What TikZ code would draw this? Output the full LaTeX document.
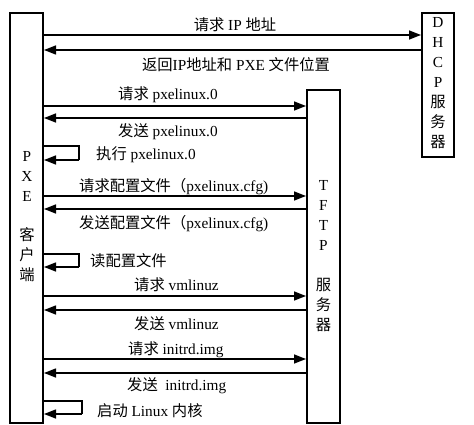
\documentclass[tikz,border=0pt]{standalone}
\usepackage{fontspec}
\setmainfont{Liberation Serif}
\newfontfamily\cjk{Noto Sans CJK SC}
\usetikzlibrary{arrows.meta}
\newcommand{\zh}[1]{{\cjk #1}}
\tikzset{
  box/.style={draw, line width=2pt, inner sep=0pt},
  arr/.style={line width=1.4pt, -{Triangle[length=12pt,width=9pt]}},
  lab/.style={font=\fontsize{15.3}{16}\selectfont, inner sep=0pt},
  vlab/.style={font=\fontsize{15.3}{20}\selectfont, align=center, inner sep=0pt},
}
\begin{document}
\begin{tikzpicture}[x=1pt,y=-1pt]
\useasboundingbox (0,0) rectangle (474,425);
\fill[white] (0,0) rectangle (474,425);
% boxes
\node[box, minimum width=33pt, minimum height=410pt] (client) at (26.5,218) {};
\node[box, minimum width=32pt, minimum height=144pt] (dhcp) at (438,85) {};
\node[box, minimum width=33pt, minimum height=333pt] (tftp) at (323.5,256.5) {};
% vertical texts
\node[vlab, anchor=north] (ctext) at (27,151) {P\\X\\E\\[19pt]\zh{客}\\\zh{户}\\\zh{端}};
\node[vlab, anchor=north] (dtext) at (438,17) {D\\H\\C\\P\\\zh{服}\\\zh{务}\\\zh{器}};
\node[vlab, anchor=north] (ttext) at (323.5,180) {T\\F\\T\\P\\[20pt]\zh{服}\\\zh{务}\\\zh{器}};
% coordinates
\coordinate (y1) at (0,35);
\coordinate (y2) at (0,50);
\coordinate (y3) at (0,106);
\coordinate (y4) at (0,118);
\coordinate (y6) at (0,196);
\coordinate (y7) at (0,209);
\coordinate (y9) at (0,296);
\coordinate (y10) at (0,310);
\coordinate (y11) at (0,359);
\coordinate (y12) at (0,373);
% DHCP messages
\draw[arr] (client.east |- y1) -- (dhcp.west |- y1);
\draw[arr] (dhcp.west |- y2) -- (client.east |- y2);
\node[lab] (l1) at (235,25) {\zh{请求} IP \zh{地址}};
\node[lab] (l2) at (236,65) {\zh{返回}IP\zh{地址和} PXE \zh{文件位置}};
% TFTP messages
\draw[arr] (client.east |- y3) -- (tftp.west |- y3);
\draw[arr] (tftp.west |- y4) -- (client.east |- y4);
\node[lab, anchor=west] (l3) at (118,95) {\zh{请求} pxelinux.0};
\node[lab, anchor=west] (l4) at (118,132) {\zh{发送} pxelinux.0};
% self loop 1
\coordinate (s1a) at (client.east |- 0,146);
\coordinate (s1b) at (79,146);
\coordinate (s1c) at (79,160);
\coordinate (s1d) at (client.east |- 0,160);
\draw[line width=1.1pt] (s1a) -- (s1b) -- (s1c);
\draw[arr] (s1c) -- (s1d);
\node[lab, anchor=west] (l5) at (96,155) {\zh{执行} pxelinux.0};
\draw[arr] (client.east |- y6) -- (tftp.west |- y6);
\draw[arr] (tftp.west |- y7) -- (client.east |- y7);
\node[lab, anchor=west] (l6) at (79,187) {\zh{请求配置文件（}pxelinux.cfg)};
\node[lab, anchor=west] (l7) at (79,224) {\zh{发送配置文件（}pxelinux.cfg)};
% self loop 2
\coordinate (s2a) at (client.east |- 0,254);
\coordinate (s2b) at (79,254);
\coordinate (s2c) at (79,267);
\coordinate (s2d) at (client.east |- 0,267);
\draw[line width=1.1pt] (s2a) -- (s2b) -- (s2c);
\draw[arr] (s2c) -- (s2d);
\node[lab, anchor=west] (l8) at (90,261) {\zh{读配置文件}};
\draw[arr] (client.east |- y9) -- (tftp.west |- y9);
\draw[arr] (tftp.west |- y10) -- (client.east |- y10);
\node[lab, anchor=west] (l9) at (134,285) {\zh{请求} vmlinuz};
\node[lab, anchor=west] (l10) at (134,324) {\zh{发送} vmlinuz};
\draw[arr] (client.east |- y11) -- (tftp.west |- y11);
\draw[arr] (tftp.west |- y12) -- (client.east |- y12);
\node[lab, anchor=west] (l11) at (128,350) {\zh{请求} initrd.img};
\node[lab, anchor=west] (l12) at (127,386) {\zh{发送}\ \ initrd.img};
% self loop 3
\coordinate (s3a) at (client.east |- 0,401);
\coordinate (s3b) at (82,401);
\coordinate (s3c) at (82,414);
\coordinate (s3d) at (client.east |- 0,414);
\draw[line width=1.1pt] (s3a) -- (s3b) -- (s3c);
\draw[arr] (s3c) -- (s3d);
\node[lab, anchor=west] (l13) at (97,411) {\zh{启动} Linux \zh{内核}};
\end{tikzpicture}
\end{document}
